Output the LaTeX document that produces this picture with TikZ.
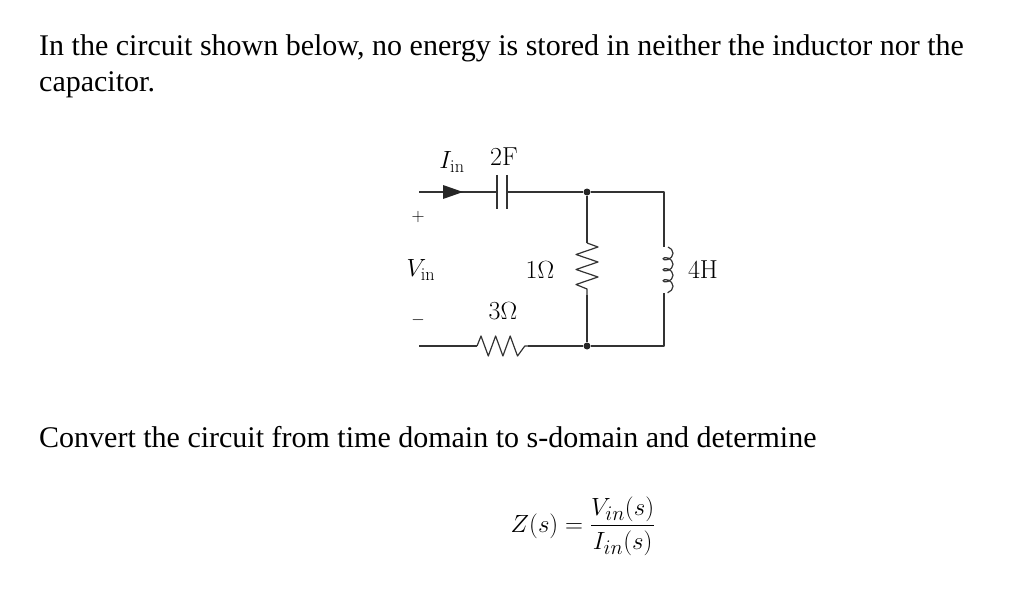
\documentclass[tikz,border=0pt]{standalone}
\usepackage{fontspec}
\usepackage{amsmath}
\newfontfamily\tnr{Liberation Serif}
\usetikzlibrary{decorations.pathmorphing,arrows.meta}
\begin{document}
\begin{tikzpicture}[x=1pt,y=-1pt,
  wire/.style={line width=1.2pt,line join=round,draw=black!80},
  txt/.style={font=\tnr\fontsize{30}{36}\selectfont,anchor=west,inner sep=0},
  lbl/.style={font=\fontsize{26}{30}\selectfont,inner sep=0},
  dot/.style={circle,fill=black!85,inner sep=0,minimum size=7pt}]
\useasboundingbox (0,0) rectangle (1024,596);
\node[txt,anchor=base west] (t1) at (39,56) {In the circuit shown below, no energy is stored in neither the inductor nor the};
\node[txt,anchor=base west] (t2) at (39,92) {capacitor.};
\node[txt,anchor=base west] (t3) at (39,447) {Convert the circuit from time domain to s-domain and determine};
\node[inner sep=0] (eq) at (583,526) {\fontsize{30}{34}\selectfont $Z(s)=\dfrac{V_{in}(s)}{I_{in}(s)}$};
% coordinates
\coordinate (tl) at (419,192);
\coordinate (c1) at (497,192);
\coordinate (c2) at (507,192);
\node[dot] (n1) at (587,192) {};
\coordinate (tr) at (664,192);
\coordinate (bl) at (419,346);
\node[dot] (n2) at (587,346) {};
\coordinate (br) at (664,346);
\coordinate (r3a) at (477,346);
\coordinate (r3b) at (528,346);
\coordinate (r1a) at (587,243);
\coordinate (r1b) at (587,295);
\coordinate (la) at (664,240);
\coordinate (lb) at (664,300);
% wires
\draw[wire] (tl) -- (c1);
\draw[wire] (c1)+(0,-17) -- +(0,17);
\draw[wire] (c2)+(0,-17) -- +(0,17);
\draw[wire] (c2) -- (n1) -- (tr) -- (la);
\draw[wire] (lb) -- (br) -- (n2) -- (r3b);
\draw[wire] (r3a) -- (bl);
\draw[wire] (n1) -- (r1a);
\draw[wire] (r1b) -- (n2);
% arrow
\fill[black!85] (443,185) -- (463,192) -- (443,199) -- cycle;
% resistors
\draw[wire] (r1a) -- ++(11,4) -- ++(-22,7.5) -- ++(22,7.5) -- ++(-22,7.5) -- ++(22,7.5) -- ++(-22,7.5) -- ++(11,4.5) -- (r1b);
\draw[wire] (r3a) -- ++(4,-10) -- ++(7.3,20) -- ++(7.3,-20) -- ++(7.3,20) -- ++(7.3,-20) -- ++(7.3,20) -- ++(7.3,-10) -- (r3b);
% inductor
\draw[wire] (la) -- ++(0,7);
\draw[wire] (lb) -- ++(0,-7);
\draw[wire,decorate,decoration={coil,aspect=0.7,amplitude=5pt,segment length=11pt,pre length=0pt,post length=0pt}] (668,247) -- (668,293);
% labels
\node[lbl] (lI) at (452,162) {$I_{\mathrm{in}}$};
\node[lbl] (lC) at (504,157) {2F};
\node[lbl] (lp) at (418,217) {\fontsize{18}{20}\selectfont +};
\node[lbl] (lV) at (421,270) {$V_{\mathrm{in}}$};
\node[lbl] (lm) at (418,320) {\fontsize{18}{20}\selectfont $-$};
\node[lbl] (lR1) at (540,270) {1$\Omega$};
\node[lbl] (lR3) at (503,311) {3$\Omega$};
\node[lbl] (lL) at (703,270) {4H};
\end{tikzpicture}
\end{document}
